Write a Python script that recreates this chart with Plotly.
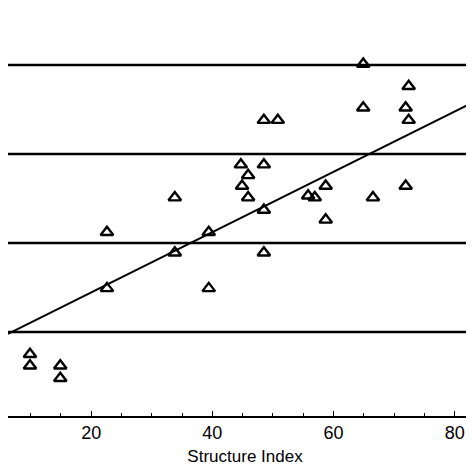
import plotly.graph_objects as go

xs = [64.9, 83.5, 72.4, 64.9, 71.9, 72.4, 48.5, 50.8, 83.8, 83.8, 44.7, 48.5, 45.9, 44.9, 55.8, 58.7, 71.9, 33.8, 45.9, 56.9, 66.5, 48.5, 58.7, 22.6, 39.4, 33.8, 48.5, 22.6, 39.4, 9.9, 9.9, 14.9, 14.9]
ys = [4.01, 4.01, 3.76, 3.52, 3.52, 3.38, 3.38, 3.38, 3.38, 3.16, 2.88, 2.88, 2.76, 2.64, 2.53, 2.64, 2.64, 2.51, 2.51, 2.51, 2.51, 2.37, 2.26, 2.12, 2.12, 1.89, 1.89, 1.49, 1.49, 0.75, 0.62, 0.62, 0.48]
fit_x = [6.27, 84.5]
fit_y = [0.978, 3.63]
hlines = [1, 2, 3, 4]

fig = go.Figure()
for h in hlines:
    fig.add_trace(go.Scatter(x=fit_x, y=[h, h], mode="lines", line=dict(color="black", width=2.5), hoverinfo="skip"))
fig.add_trace(go.Scatter(x=fit_x, y=fit_y, mode="lines", line=dict(color="black", width=2)))
fig.add_trace(go.Scatter(x=xs, y=ys, mode="markers", cliponaxis=False,
                         marker=dict(symbol="triangle-up-open", size=11, color="black", line=dict(width=2.4, color="black"))))
fig.update_layout(width=474, height=474, showlegend=False, plot_bgcolor="white", paper_bgcolor="white",
                  margin=dict(l=0, r=0, t=0, b=66, pad=0, autoexpand=False),
                  font=dict(family="Liberation Sans, Arial", size=17, color="black"))
fig.update_xaxes(range=[6.27, 84.5], tickvals=[20, 40, 60, 80], ticks="inside", ticklen=5, tickcolor="black",
                 tickfont=dict(size=18),
                 minor=dict(dtick=5, tick0=0, ticks="inside", ticklen=3, tickcolor="black"),
                 showline=True, linecolor="black", linewidth=1.5, showgrid=False, zeroline=False,
                 title=dict(text="Structure Index", standoff=8, font=dict(size=17)))
fig.update_yaxes(range=[0.056, 4.64], showticklabels=False, showgrid=False, zeroline=False, ticks="")
fig.write_html("out.html")
